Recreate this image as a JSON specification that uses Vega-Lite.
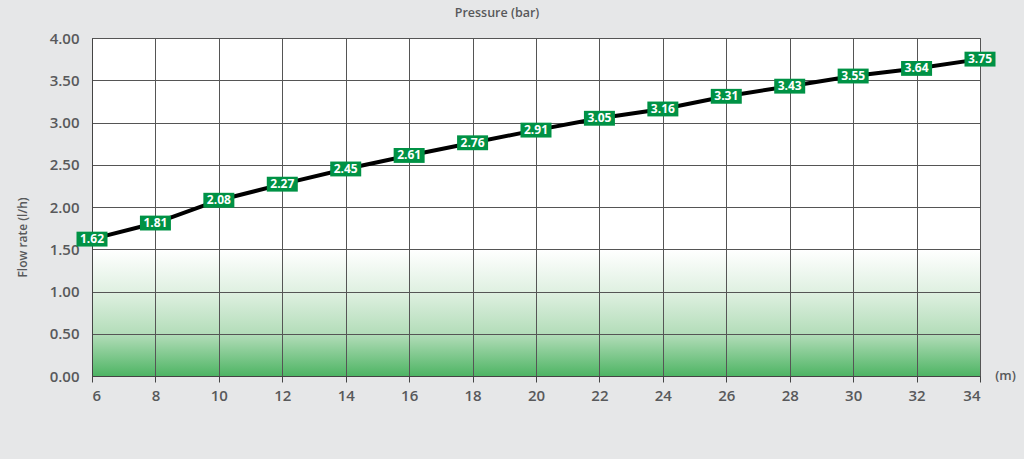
{
  "$schema": "https://vega.github.io/schema/vega-lite/v6.json",
  "autosize": "none",
  "width": 888,
  "height": 338,
  "padding": {"left": 92, "top": 38, "right": 44, "bottom": 83},
  "background": "#e6e7e8",
  "config": {
    "view": {
      "fill": {
        "gradient": "linear",
        "x1": 0, "y1": 0, "x2": 0, "y2": 1,
        "stops": [
          {"offset": 0, "color": "#ffffff"},
          {"offset": 0.625, "color": "#ffffff"},
          {"offset": 0.75, "color": "#dff0e1"},
          {"offset": 0.875, "color": "#b3ddb9"},
          {"offset": 1, "color": "#4db463"}
        ]
      },
      "stroke": "#555555",
      "strokeWidth": 1
    },
    "font": "Open Sans"
  },
  "title": {
    "text": "Pressure (bar)",
    "anchor": "middle",
    "fontSize": 12.5,
    "fontWeight": 600,
    "color": "#58595b",
    "dx": -39,
    "offset": 12,
    "font": "Open Sans"
  },
  "data": {
    "values": [
      {"distance": 6, "flow": 1.62},
      {"distance": 8, "flow": 1.81},
      {"distance": 10, "flow": 2.08},
      {"distance": 12, "flow": 2.27},
      {"distance": 14, "flow": 2.45},
      {"distance": 16, "flow": 2.61},
      {"distance": 18, "flow": 2.76},
      {"distance": 20, "flow": 2.91},
      {"distance": 22, "flow": 3.05},
      {"distance": 24, "flow": 3.16},
      {"distance": 26, "flow": 3.31},
      {"distance": 28, "flow": 3.43},
      {"distance": 30, "flow": 3.55},
      {"distance": 32, "flow": 3.64},
      {"distance": 34, "flow": 3.75}
    ]
  },
  "layer": [
    {
      "mark": {"type": "line", "color": "#000000", "strokeWidth": 4, "strokeCap": "round"},
      "encoding": {
        "x": {
          "field": "distance",
          "type": "quantitative",
          "scale": {"domain": [6, 34], "nice": false, "zero": false},
          "axis": {
            "values": [6, 8, 10, 12, 14, 16, 18, 20, 22, 24, 26, 28, 30, 32, 34],
            "grid": true,
            "gridColor": "#555555",
            "gridOpacity": 1,
            "gridWidth": 1,
            "domain": true,
            "domainColor": "#444444",
            "ticks": true,
            "tickSize": 6,
            "tickColor": "#444444",
            "labelFontSize": 15,
            "labelFontWeight": 600,
            "labelColor": "#58595b",
            "labelPadding": 6,
            "title": "(m)",
            "titleFontSize": 13,
            "titleFontWeight": 600,
            "titleColor": "#58595b",
            "titleX": 913,
            "titleY": -1,
            "titleBaseline": "middle",
            "titleAlign": "center"
          }
        },
        "y": {
          "field": "flow",
          "type": "quantitative",
          "scale": {"domain": [0, 4], "nice": false},
          "axis": {
            "values": [0, 0.5, 1, 1.5, 2, 2.5, 3, 3.5, 4],
            "format": ".2f",
            "grid": true,
            "gridColor": "#555555",
            "gridOpacity": 1,
            "gridWidth": 1,
            "domain": true,
            "domainColor": "#444444",
            "ticks": false,
            "labelFontSize": 15,
            "labelFontWeight": 600,
            "labelColor": "#58595b",
            "labelPadding": 13,
            "title": "Flow rate (l/h)",
            "titleFontSize": 12,
            "titleFontWeight": 600,
            "titleColor": "#58595b",
            "titleX": -70,
            "titleY": 199,
            "titleAngle": -90,
            "titleAlign": "center",
            "titleBaseline": "middle"
          }
        }
      }
    },
    {
      "mark": {
        "type": "point",
        "shape": "M-1,-0.48H1V0.48H-1Z",
        "size": 961,
        "filled": true,
        "fill": "#009245",
        "opacity": 1,
        "strokeWidth": 0
      },
      "encoding": {
        "x": {"field": "distance", "type": "quantitative"},
        "y": {"field": "flow", "type": "quantitative"}
      }
    },
    {
      "mark": {
        "type": "text",
        "color": "#ffffff",
        "fontSize": 12,
        "fontWeight": "bold",
        "font": "Open Sans",
        "align": "center",
        "baseline": "middle"
      },
      "encoding": {
        "x": {"field": "distance", "type": "quantitative"},
        "y": {"field": "flow", "type": "quantitative"},
        "text": {"field": "flow", "type": "quantitative", "format": ".2f"}
      }
    }
  ]
}
